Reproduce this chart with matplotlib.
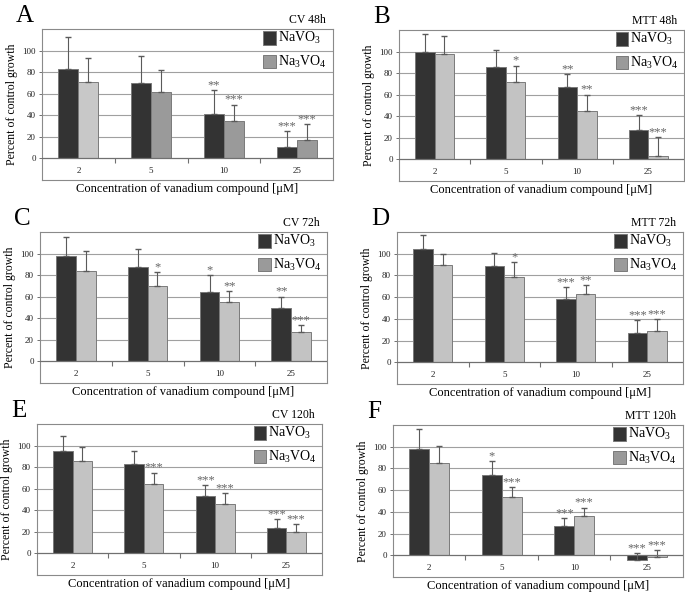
import numpy as np
import matplotlib
matplotlib.use("Agg")
import matplotlib.pyplot as plt
from matplotlib.patches import Patch

plt.rcParams["font.family"] = ["Liberation Serif", "DejaVu Serif"]
plt.rcParams["mathtext.fontset"] = "custom"
plt.rcParams["mathtext.rm"] = "Liberation Serif"
plt.rcParams["mathtext.it"] = "Liberation Serif"

# data (percent of control growth)
categories = ["2", "5", "10", "25"]
panel_letters = ["A", "B", "C", "D", "E", "F"]
panel_titles = ["CV 48h", "MTT 48h", "CV 72h", "MTT 72h", "CV 120h", "MTT 120h"]

navo3_mean = [
    [83, 70, 41, 11],
    [100, 86, 67, 27],
    [98, 88, 64, 50],
    [104, 89, 58, 27],
    [95, 83, 53, 24],
    [98, 74, 27, -4],
]
navo3_err = [
    [30, 25, 22, 14],
    [16, 15, 12, 14],
    [17, 16, 16, 10],
    [13, 12, 11, 12],
    [14, 12, 10, 8],
    [18, 13, 7, 6],
]
na3vo4_mean = [
    [71, 62, 35, 17],
    [98, 72, 45, 3],
    [84, 70, 55, 27],
    [90, 79, 63, 29],
    [86, 64, 46, 20],
    [85, 54, 36, -2],
]
na3vo4_err = [
    [22, 20, 15, 15],
    [16, 15, 15, 18],
    [18, 13, 10, 7],
    [10, 13, 8, 11],
    [13, 11, 10, 7],
    [16, 9, 8, 7],
]
navo3_stars = [
    ["", "", "**", "***"],
    ["", "", "**", "***"],
    ["", "", "*", "**"],
    ["", "", "***", "***"],
    ["", "", "***", "***"],
    ["", "*", "***", "***"],
]
na3vo4_stars = [
    ["", "", "***", "***"],
    ["", "*", "**", "***"],
    ["", "*", "**", "***"],
    ["", "*", "**", "***"],
    ["", "***", "***", "***"],
    ["", "***", "***", "***"],
]

# axes boxes in pixels: left, right, top, bottom
W, H = 685, 593
boxes = [
    (42, 333, 29, 180),
    (399, 684, 30, 181),
    (40, 327, 232, 383),
    (397, 683, 232, 384),
    (37, 322, 424, 575),
    (393, 683, 425, 577),
]

dark = "#333333"
light = "#c3c3c3"
legend_light = "#9a9a9a"
edge = "#7a7a7a"
grid_col = "#a0a0a0"

fig = plt.figure(figsize=(W / 100, H / 100), dpi=100)

x = np.arange(1, 5)
bw = 0.275

for i in range(6):
    l, r, t, b = boxes[i]
    ax = fig.add_axes([l / W, 1 - b / H, (r - l) / W, (b - t) / H])

    light_colors = [light] * 4
    if i == 0:
        light_colors = ["#c8c8c8", legend_light, legend_light, legend_light]

    ax.set_xlim(0.5, 4.5)
    ax.set_ylim(-20, 120)
    for g in range(20, 101, 20):
        ax.axhline(g, color=grid_col, lw=0.8, zorder=0)

    ax.bar(x - bw / 2, navo3_mean[i], bw, color=dark, edgecolor=edge,
           lw=0.7, zorder=2)
    ax.bar(x + bw / 2, na3vo4_mean[i], bw, color=light_colors,
           edgecolor=edge, lw=0.7, zorder=2)

    ax.errorbar(x - bw / 2, navo3_mean[i],
                yerr=[np.zeros(4), navo3_err[i]], fmt="none",
                ecolor="#5a5a5a", elinewidth=0.8, capsize=2, zorder=3)
    ax.errorbar(x + bw / 2, na3vo4_mean[i],
                yerr=[np.zeros(4), na3vo4_err[i]], fmt="none",
                ecolor="#5a5a5a", elinewidth=0.8, capsize=2, zorder=3)

    for j in range(4):
        top1 = navo3_mean[i][j] + navo3_err[i][j]
        top2 = na3vo4_mean[i][j] + na3vo4_err[i][j]
        ax.text(x[j] - bw / 2, top1 - 1, navo3_stars[i][j], ha="center",
                va="bottom", fontsize=9, color="#666666", zorder=4)
        ax.text(x[j] + bw / 2, top2 - 1, na3vo4_stars[i][j], ha="center",
                va="bottom", fontsize=9, color="#666666", zorder=4)
        ax.text(x[j], -12, categories[j], ha="center", va="center",
                fontsize=6.5, color="#222222")

    ax.axhline(0, color="#707070", lw=0.9, zorder=3)
    ax.vlines([1.5, 2.5, 3.5], -4, 0, color="#707070", lw=0.8)

    ax.set_xticks([])
    ax.set_yticks(range(0, 101, 20))
    ax.tick_params(axis="y", labelsize=6.5, length=2.5, width=0.7,
                   color="#707070", pad=2, labelcolor="#222222")
    for s in ax.spines.values():
        s.set_color("#8a8a8a")
        s.set_linewidth(0.8)

    ax.set_ylabel("Percent of control growth", fontsize=8.5, labelpad=3)
    ax.set_xlabel("Concentration of vanadium compound [\u03bcM]",
                  fontsize=9, labelpad=2)

    ax.text(0.975, 1.02, panel_titles[i], transform=ax.transAxes,
            ha="right", va="bottom", fontsize=8.5)

    handles = [Patch(facecolor=dark, edgecolor=edge, lw=0.7),
               Patch(facecolor=legend_light, edgecolor=edge, lw=0.7)]
    ax.legend(handles, ["NaVO$_3$", "Na$_3$VO$_4$"], loc="upper left",
              bbox_to_anchor=(0.755, 1.0), frameon=False, fontsize=10,
              handlelength=0.9, handleheight=1.15, handletextpad=0.15,
              labelspacing=0.55, borderpad=0.1, borderaxespad=0.0)

    fig.text((l - 26) / W, 1 - (t - 24) / H, panel_letters[i],
             fontsize=18, ha="left", va="top")

fig.savefig("out.png", dpi=100)
